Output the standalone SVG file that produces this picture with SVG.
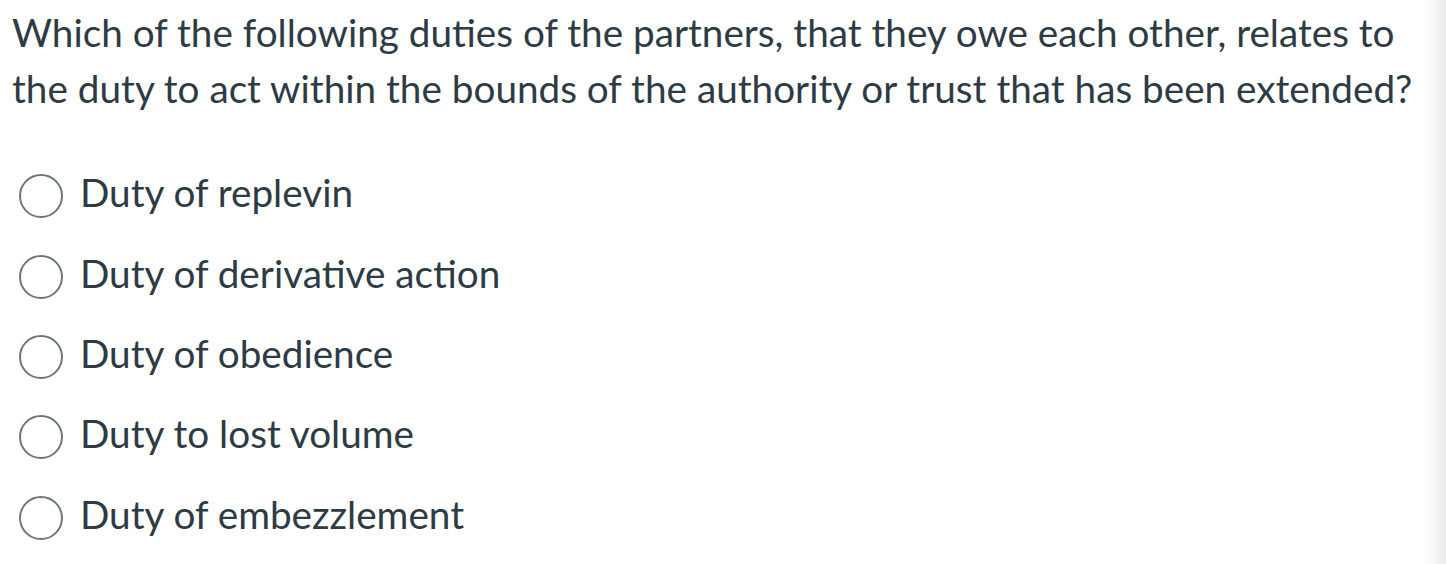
<svg xmlns="http://www.w3.org/2000/svg" width="1446" height="564" viewBox="0 0 1446 564">
<defs><linearGradient id="g" x1="0" x2="1"><stop offset="0" stop-color="#fff" stop-opacity="0"/><stop offset="1" stop-color="#e8e8e8"/></linearGradient></defs>
<style>text{font-family:Lato,"Liberation Sans",sans-serif;fill:#2d3b45;font-size:38.7px}.r{fill:#fff;stroke:#6b7780;stroke-width:2}</style>
<rect width="1446" height="564" fill="#fff"/>
<rect x="1418" y="0" width="28" height="564" fill="url(#g)"/>
<text x="12" y="47">Which of the following duties of the partners, that they owe each other, relates to</text>
<text x="12" y="103">the duty to act within the bounds of the authority or trust that has been extended?</text>
<g id="o1"><circle class="r" cx="41" cy="196" r="21"/><text x="80" y="207">Duty of replevin</text></g>
<g id="o2"><circle class="r" cx="41" cy="277" r="21"/><text x="80" y="288">Duty of derivative action</text></g>
<g id="o3"><circle class="r" cx="41" cy="357" r="21"/><text x="80" y="368">Duty of obedience</text></g>
<g id="o4"><circle class="r" cx="41" cy="437" r="21"/><text x="80" y="448">Duty to lost volume</text></g>
<g id="o5"><circle class="r" cx="41" cy="518" r="21"/><text x="80" y="529">Duty of embezzlement</text></g>
</svg>
